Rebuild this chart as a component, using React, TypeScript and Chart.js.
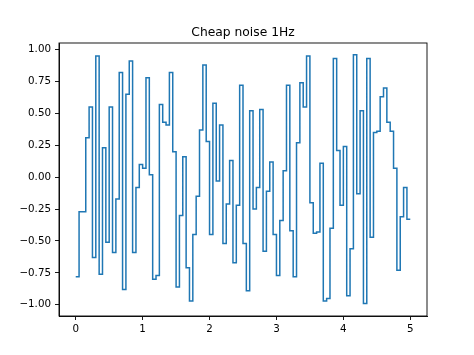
import React, { useEffect, useRef } from "react";
import { Chart, registerables } from "chart.js";

Chart.register(...registerables);

const TITLE = "Cheap noise 1Hz";
const DT = 0.05;
const NOISE = [
  -0.78, -0.27, -0.27, 0.31, 0.55, -0.63, 0.95, -0.76, 0.23, -0.51,
  0.55, -0.59, -0.17, 0.82, -0.88, 0.65, 0.91, -0.59, -0.08, 0.10,
  0.07, 0.78, 0.02, -0.80, -0.77, 0.57, 0.43, 0.41, 0.82, 0.20,
  -0.86, -0.30, 0.16, -0.71, -0.97, -0.45, -0.15, 0.37, 0.88, 0.28,
  -0.45, 0.58, -0.03, 0.41, -0.52, -0.21, 0.13, -0.67, -0.22, 0.72,
  -0.52, -0.89, 0.52, -0.25, -0.08, 0.53, -0.58, -0.11, 0.12, -0.45,
  -0.77, -0.34, 0.05, 0.72, -0.42, -0.78, 0.27, 0.74, 0.55, 0.95,
  -0.20, -0.44, -0.43, 0.11, -0.97, -0.95, -0.40, 0.93, 0.21, -0.22,
  0.24, -0.93, -0.56, 0.96, -0.13, 0.52, -0.99, 0.93, -0.47, 0.35,
  0.36, 0.63, 0.70, 0.43, 0.36, 0.07, -0.73, -0.31, -0.08, -0.33,
];
const X_TICKS = [0, 1, 2, 3, 4, 5];
const Y_TICKS = [-1.0, -0.75, -0.5, -0.25, 0.0, 0.25, 0.5, 0.75, 1.0];

const FONT = "'DejaVu Sans', sans-serif";

const framePlugin = {
  id: "frameAndTitle",
  afterDraw(chart: any) {
    const { ctx, chartArea } = chart;
    const { left, right, top, bottom } = chartArea;
    ctx.save();
    ctx.strokeStyle = "#000";
    ctx.lineWidth = 0.9;
    ctx.strokeRect(left, top, right - left, bottom - top);
    ctx.fillStyle = "#000";
    ctx.font = `12.3px ${FONT}`;
    ctx.textAlign = "center";
    ctx.textBaseline = "alphabetic";
    ctx.fillText(TITLE, (left + right) / 2, 35.7);
    ctx.restore();
  },
};

export default function App() {
  const ref = useRef<HTMLCanvasElement | null>(null);

  useEffect(() => {
    if (!ref.current) return;
    const pts = NOISE.map((v, i) => ({ x: i * DT, y: v }));
    pts.push({ x: NOISE.length * DT, y: NOISE[NOISE.length - 1] });

    const chart = new Chart(ref.current, {
      type: "line",
      data: {
        datasets: [
          {
            data: pts,
            stepped: "before",
            borderColor: "#1f77b4",
            borderWidth: 1.5,
            pointRadius: 0,
            fill: false,
          },
        ],
      },
      options: {
        responsive: false,
        animation: false,
        layout: { padding: { top: 43, right: 47, left: 0, bottom: 0 } },
        plugins: {
          legend: { display: false },
          tooltip: { enabled: false },
          title: { display: false },
        },
        scales: {
          x: {
            type: "linear",
            min: -0.25,
            max: 5.25,
            afterFit: (s: any) => {
              s.height = 39;
            },
            afterBuildTicks: (s: any) => {
              s.ticks = X_TICKS.map((v) => ({ value: v }));
            },
            grid: {
              drawOnChartArea: false,
              drawTicks: true,
              tickLength: 4,
              tickColor: "#000",
              tickWidth: 0.9,
            },
            border: { display: true, color: "#000", width: 0.9 },
            ticks: {
              color: "#000",
              padding: 3,
              maxRotation: 0,
              autoSkip: false,
              font: { family: FONT, size: 10.3 },
              callback: (v: any) => String(v),
            },
          },
          y: {
            type: "linear",
            min: -1.088,
            max: 1.052,
            afterFit: (s: any) => {
              s.width = 59;
            },
            afterBuildTicks: (s: any) => {
              s.ticks = Y_TICKS.map((v) => ({ value: v }));
            },
            grid: {
              drawOnChartArea: false,
              drawTicks: true,
              tickLength: 4,
              tickColor: "#000",
              tickWidth: 0.9,
            },
            border: { display: true, color: "#000", width: 0.9 },
            ticks: {
              color: "#000",
              padding: 4,
              autoSkip: false,
              font: { family: FONT, size: 10.3 },
              callback: (v: any) => {
                const n = Number(v);
                const s = Math.abs(n).toFixed(2);
                return n < -1e-9 ? "\u2212" + s : s;
              },
            },
          },
        },
      },
      plugins: [framePlugin],
    });
    return () => chart.destroy();
  }, []);

  return (
    <div style={{ position: "absolute", left: 0, top: 0, width: 474, height: 355, background: "#fff" }}>
      <canvas ref={ref} width={474} height={355} />
    </div>
  );
}
